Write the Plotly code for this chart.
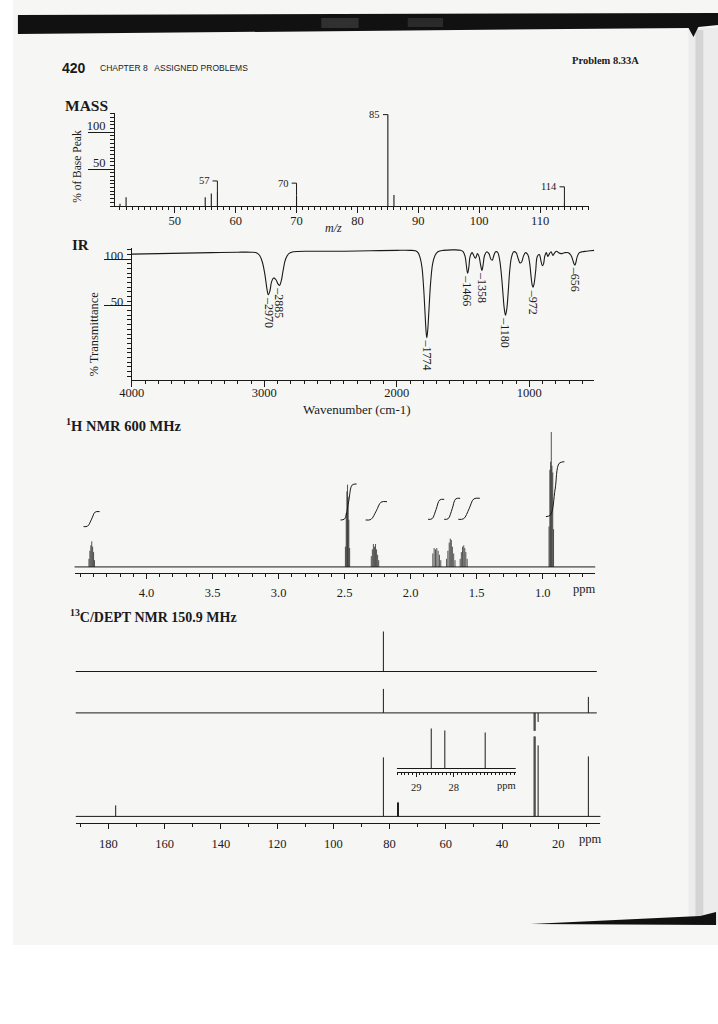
import plotly.graph_objects as go

W, H = 718, 1024
SERIF = "Liberation Serif"
SANS = "Liberation Sans"
INK = "#1a1a1a"

# ---------------- data ----------------
# Mass spectrum (m/z, intensity read against the printed axis)
ms_mz = [41, 42, 55, 56, 57, 70, 85, 86, 114]
ms_rel = [3, 12, 12, 17, 19, 14, 124, 15, 4]
ms_tag_mz = [57, 70, 85, 114]
ms_tag_text = ["57", "70", "85", "114"]
ms_tag_level = [34, 31, 124, 26]
ms_xticks = [50, 60, 70, 80, 90, 100, 110]
ms_yticks = [50, 100]

# IR spectrum (wavenumber, %T)
ir_wn = [4000, 3800, 3600, 3400, 3200, 3100, 3060, 3035, 3015, 2995, 2980, 2970,
         2958, 2945, 2930, 2912, 2895, 2885, 2872, 2858, 2840, 2815, 2780, 2600,
         2400, 2200, 2000, 1900, 1860, 1840, 1825, 1810, 1798, 1787, 1780, 1774,
         1767, 1758, 1745, 1730, 1712, 1690, 1650, 1560, 1520, 1500, 1485, 1475,
         1466, 1457, 1447, 1432, 1420, 1408, 1400, 1392, 1380, 1368, 1358, 1349,
         1338, 1322, 1305, 1290, 1280, 1268, 1255, 1240, 1225, 1212, 1200, 1190,
         1180, 1170, 1160, 1148, 1135, 1118, 1100, 1085, 1070, 1058, 1045, 1030,
         1012, 998, 986, 978, 972, 964, 952, 940, 925, 912, 902, 893,
         884, 872, 860, 848, 836, 822, 808, 795, 780, 760, 735, 705,
         685, 672, 663, 656, 648, 638, 622, 600, 570, 540, 510]
ir_t = [105.5, 106, 106.5, 107, 107.5, 107.5, 107, 104, 97, 83, 68, 62,
        66, 76, 80, 78, 73, 72, 77, 88, 100, 106, 108, 108.5,
        108.5, 109, 109.5, 109.5, 109, 107, 102, 91, 70, 42, 24, 16,
        24, 45, 75, 95, 104, 108, 109.5, 110, 109.5, 108, 103, 93,
        85, 91, 103, 107, 104, 101, 103, 106, 103, 94, 88, 94,
        104, 108, 106, 100, 99, 104, 108, 107.5, 100, 85, 65, 48,
        40, 47, 64, 88, 102, 108, 107, 101, 96, 97, 103, 107,
        105, 96, 80, 72, 70, 74, 88, 103, 105, 98, 93, 95,
        103, 107, 103, 106, 108, 104, 107, 108.5, 107, 106, 107, 107,
        104, 99, 95, 93.5, 97, 103, 107, 108, 108.5, 109, 109.5]
ir_tag_wn = [2970, 2885, 1774, 1466, 1358, 1180, 972, 656]
ir_tag_t = [62, 72, 16, 85, 88, 40, 70, 93.5]
ir_xticks = [4000, 3000, 2000, 1000]
ir_yticks = [50, 100]

# 1H NMR: individual lines of each multiplet (ppm, height)
h_ppm = [4.436, 4.429, 4.422, 4.415, 4.408, 4.401, 4.394,
         2.494, 2.488, 2.483, 2.478, 2.473, 2.468, 2.462,
         2.298, 2.290, 2.282, 2.274, 2.266, 2.258, 2.250, 2.242,
         1.832, 1.822, 1.812, 1.802, 1.792, 1.782, 1.772,
         1.728, 1.718, 1.708, 1.700, 1.692, 1.684, 1.674, 1.664,
         1.625, 1.616, 1.607, 1.598, 1.590, 1.582, 1.572,
         0.952, 0.946, 0.940, 0.935, 0.930, 0.924, 0.918]
h_int = [6, 12, 16, 19, 15, 11, 5,
         15, 40, 56, 61, 52, 35, 14,
         8, 13, 17, 15, 17, 13, 9, 5,
         10, 14, 13, 14, 12, 9, 5,
         6, 12, 18, 21, 20, 15, 10, 5,
         6, 11, 15, 16, 14, 11, 6,
         30, 72, 78, 100, 75, 70, 28]
h_integ_from = [4.477, 2.531, 2.341, 1.868, 1.746, 1.639, 0.976]
h_integ_to = [4.355, 2.409, 2.179, 1.746, 1.625, 1.476, 0.836]
h_integ_low = [29.9, 34.8, 34.8, 35.3, 35.3, 35.3, 37.3]
h_integ_high = [41.0, 61.5, 48.4, 50.1, 50.9, 50.9, 78.0]
h_xticks = [4.0, 3.5, 3.0, 2.5, 2.0, 1.5, 1.0]
h_xlabels = ["4.0", "3.5", "3.0", "2.5", "2.0", "1.5", "1.0"]

# 13C / DEPT
c_ppm = [177.4, 82.2, 77.16, 77.0, 76.84, 28.60, 28.24, 27.17, 9.3]
c_int = [11, 59, 13.5, 14.5, 13.5, 80, 80, 71, 60]
dept135_ppm = [82.2, 28.60, 28.24, 27.17, 9.3]
dept135_int = [24, -18, -18, -9, 16]
dept90_ppm = [82.2]
dept90_int = [40]
inset_ppm = [28.60, 28.24, 27.17]
inset_int = [40, 38, 36]
c_xticks = [180, 160, 140, 120, 100, 80, 60, 40, 20]
inset_xticks = [29, 28]


# ---------------- helpers ----------------
def dom_x(a, b):
    return [a / W, b / W]


def dom_y(top, bottom):
    return [1 - bottom / H, 1 - top / H]


def sticks(xs, hs):
    X, Y = [], []
    for x, h in zip(xs, hs):
        X += [x, x, None]
        Y += [0, h, None]
    return X, Y


def line_trace(X, Y, xa, ya, width=1.0, shape="linear", color=INK):
    return go.Scatter(x=X, y=Y, xaxis=xa, yaxis=ya, mode="lines",
                      line=dict(color=color, width=width, shape=shape),
                      hoverinfo="skip", showlegend=False)


fig = go.Figure()

# Mass spectrum
X, Y = sticks(ms_mz, ms_rel)
fig.add_trace(line_trace(X, Y, "x", "y", 1.1))
LX, LY = [], []
for m, lvl in zip(ms_tag_mz, ms_tag_level):
    h = ms_rel[ms_mz.index(m)]
    LX += [m - 0.8, m, m, None]
    LY += [lvl, lvl, h, None]
fig.add_trace(line_trace(LX, LY, "x", "y", 1.0))

# IR
fig.add_trace(line_trace(ir_wn, ir_t, "x2", "y2", 1.1, "spline"))

# 1H NMR
X, Y = sticks(h_ppm, h_int)
fig.add_trace(line_trace(X, Y, "x3", "y3", 0.8, color="#2a2a2a"))
for a, b, lo, hi in zip(h_integ_from, h_integ_to, h_integ_low, h_integ_high):
    d = b - a
    xs = [a, a + 0.25 * d, a + 0.5 * d, a + 0.72 * d, b]
    ys = [lo, lo + 0.03 * (hi - lo), (lo + hi) / 2, hi - 0.03 * (hi - lo), hi]
    fig.add_trace(line_trace(xs, ys, "x3", "y3", 1.0, "spline"))

# 13C broadband, DEPT-135, DEPT-90, inset
X, Y = sticks(c_ppm, c_int)
fig.add_trace(line_trace(X, Y, "x4", "y4", 1.0))
X, Y = sticks(dept135_ppm, dept135_int)
fig.add_trace(line_trace(X, Y, "x5", "y5", 1.0))
X, Y = sticks(dept90_ppm, dept90_int)
fig.add_trace(line_trace(X, Y, "x6", "y6", 1.0))
X, Y = sticks(inset_ppm, inset_int)
fig.add_trace(line_trace(X, Y, "x7", "y7", 1.0))

# ---------------- axes ----------------
tickfont = dict(family=SERIF, size=12.5, color=INK)
common_x = dict(showgrid=False, zeroline=False, showline=True, linecolor=INK,
                linewidth=1, ticks="outside", tickcolor=INK, tickwidth=1)

layout_axes = dict(
    xaxis=dict(common_x, domain=dom_x(104, 587), range=[40.2, 118.1], anchor="y",
               tickvals=ms_xticks, ticklen=6, tickfont=tickfont, ticklabelstandoff=-3,
               minor=dict(ticks="outside", dtick=1, tick0=0, ticklen=3, tickcolor=INK)),
    yaxis=dict(common_x, domain=dom_y(112.7, 206), range=[0, 126.6], anchor="x",
               tickvals=ms_yticks, ticklen=26, tickfont=tickfont,
               ticklabelstandoff=-20, ticklabelshift=-7,
               minor=dict(ticks="outside", dtick=5, tick0=0, ticklen=4, tickcolor=INK)),
    xaxis2=dict(common_x, domain=dom_x(121, 592), range=[4000, 510], anchor="y2",
                tickvals=ir_xticks, ticklen=6, tickfont=tickfont, ticklabelstandoff=-5,
                minor=dict(ticks="outside", dtick=100, tick0=0, ticklen=3, tickcolor=INK)),
    yaxis2=dict(common_x, domain=dom_y(248, 380), range=[-29.2, 112], anchor="x2",
                tickvals=ir_yticks, ticklen=27, tickfont=tickfont,
                ticklabelstandoff=-22, ticklabelshift=-4,
                minor=dict(ticks="outside", dtick=5, tick0=0, ticklen=4, tickcolor=INK)),
    xaxis3=dict(common_x, domain=dom_x(62.7, 593), range=[4.545, 0.602], anchor="y3",
                tickvals=h_xticks, ticktext=h_xlabels, ticklen=5, tickfont=tickfont,
                ticklabelstandoff=3,
                minor=dict(ticks="outside", dtick=0.1, tick0=0, ticklen=3, tickcolor=INK)),
    yaxis3=dict(domain=dom_y(428, 573), range=[-4.5, 103], anchor="x3", visible=False),
    xaxis4=dict(common_x, domain=dom_x(63.9, 598.3), range=[191.6, 5], anchor="y4",
                tickvals=c_xticks, ticklen=5, tickfont=tickfont,
                ticklabelstandoff=4,
                minor=dict(ticks="outside", dtick=10, tick0=0, ticklen=3, tickcolor=INK)),
    yaxis4=dict(domain=dom_y(721, 823.3), range=[-6.9, 95.4], anchor="x4", visible=False),
    xaxis5=dict(domain=dom_x(63.9, 598.3), range=[191.6, 5], anchor="y5", visible=False),
    yaxis5=dict(domain=dom_y(685.9, 736.9), range=[-24, 27], anchor="x5", visible=False),
    xaxis6=dict(domain=dom_x(63.9, 598.3), range=[191.6, 5], anchor="y6", visible=False),
    yaxis6=dict(domain=dom_y(628.5, 674.5), range=[-3, 43], anchor="x6", visible=False),
    xaxis7=dict(common_x, domain=dom_x(391, 512), range=[29.51, 26.36], anchor="y7",
                tickvals=inset_xticks, ticklen=4, tickfont=dict(tickfont, size=10.5),
                ticklabelstandoff=2,
                minor=dict(ticks="outside", dtick=0.1, tick0=0, ticklen=2.5, tickcolor=INK)),
    yaxis7=dict(domain=dom_y(726, 771.5), range=[-3, 42.5], anchor="x7", visible=False),
)

# ---------------- shapes ----------------
def P(x, y):
    return f"{x / W:.5f},{1 - y / H:.5f}"


def path(points):
    return "M " + " L ".join(P(x, y) for x, y in points) + " Z"


shapes = [
    # page paper tone
    dict(type="rect", xref="paper", yref="paper", x0=0, x1=1, y0=1 - 945 / H, y1=1,
         fillcolor="#f6f6f5", line=dict(width=0), layer="below"),
    # right page curl strip
    dict(type="rect", xref="paper", yref="paper", x0=688 / W, x1=1, y0=1 - 925 / H,
         y1=1 - 28 / H, fillcolor="#ececec", line=dict(width=0), layer="below"),
    dict(type="rect", xref="paper", yref="paper", x0=695 / W, x1=703 / W, y0=1 - 920 / H,
         y1=1 - 30 / H, fillcolor="rgba(185,185,185,0.45)", line=dict(width=0), layer="below"),
    # black scan bar at the top
    dict(type="path", xref="paper", yref="paper",
         path=path([(5, 15), (718, 13), (718, 25), (698, 27), (693, 37), (688, 28), (5, 34)]),
         fillcolor="#111111", line=dict(width=0)),
    dict(type="rect", xref="paper", yref="paper", x0=314 / W, x1=352 / W, y0=1 - 28 / H,
         y1=1 - 18 / H, fillcolor="rgba(95,95,95,0.4)", line=dict(width=0)),
    dict(type="rect", xref="paper", yref="paper", x0=402 / W, x1=438 / W, y0=1 - 27 / H,
         y1=1 - 18 / H, fillcolor="rgba(90,90,90,0.35)", line=dict(width=0)),
    # bottom right dark wedge
    dict(type="path", xref="paper", yref="paper",
         path=path([(527, 924), (700, 916), (716, 912), (716, 925)]),
         fillcolor="#111111", line=dict(width=0)),
]
# spectrum baselines (span the full axis domain)
for xr, yr, x1 in [("x3 domain", "y3", 1.0), ("x4 domain", "y4", 1.0),
                   ("x5 domain", "y5", 0.993), ("x6 domain", "y6", 0.993),
                   ("x7 domain", "y7", 1.0)]:
    shapes.append(dict(type="line", xref=xr, yref=yr, x0=0, x1=x1, y0=0, y1=0,
                       line=dict(color=INK, width=1)))

# ---------------- text ----------------
ann = []


def txt(text, x, y, size, family=SERIF, xanchor="left", angle=0):
    ann.append(dict(text=text, x=x / W, y=1 - y / H, xref="paper", yref="paper",
                    xanchor=xanchor, yanchor="middle", showarrow=False, textangle=angle,
                    font=dict(family=family, size=size, color=INK)))


txt("<b>420</b>", 48, 68, 14, SANS)
txt("CHAPTER 8   ASSIGNED PROBLEMS", 87, 68, 8.5, SANS)
txt("<b>Problem 8.33A</b>", 567, 60, 10.5)
txt("<b>MASS</b>", 51, 105, 15.5)
txt("<b>IR</b>", 58, 245, 15)
txt("<b><sup>1</sup>H NMR 600 MHz</b>", 52, 425, 14.5)
txt("<b><sup>13</sup>C/DEPT NMR 150.9 MHz</b>", 56, 616, 14)
txt("% of Base Peak", 65, 166, 11.5, xanchor="center", angle=-90)
txt("<i>m/z</i>", 326, 228, 12, xanchor="center")
txt("% Transmittance", 82, 334, 12.5, xanchor="center", angle=-90)
txt("Wavenumber (cm-1)", 350, 409, 13, xanchor="center")
txt("ppm", 582, 589, 12.5, xanchor="center")
txt("ppm", 588, 839, 12.5, xanchor="center")
txt("ppm", 503, 785, 10.5, xanchor="center")

for m, lvl, t in zip(ms_tag_mz, ms_tag_level, ms_tag_text):
    ann.append(dict(text=t, x=m - 0.95, y=lvl, xref="x", yref="y", xanchor="right",
                    yanchor="middle", showarrow=False,
                    font=dict(family=SERIF, size=10.5, color=INK)))

for w, t in zip(ir_tag_wn, ir_tag_t):
    ann.append(dict(text="\u2013" + str(w), x=w, y=t, xref="x2", yref="y2",
                    xanchor="center", yanchor="top", showarrow=False, textangle=90,
                    font=dict(family=SERIF, size=12, color=INK)))

fig.update_layout(
    width=W, height=H, margin=dict(l=0, r=0, t=0, b=0),
    paper_bgcolor="white", plot_bgcolor="rgba(0,0,0,0)", showlegend=False,
    shapes=shapes, annotations=ann, **layout_axes,
)

# no body margin, no mode bar: the figure fills the window from its top-left corner
fig.write_html("out.html", config={"displayModeBar": False},
               post_script="document.body.style.margin='0px';")
